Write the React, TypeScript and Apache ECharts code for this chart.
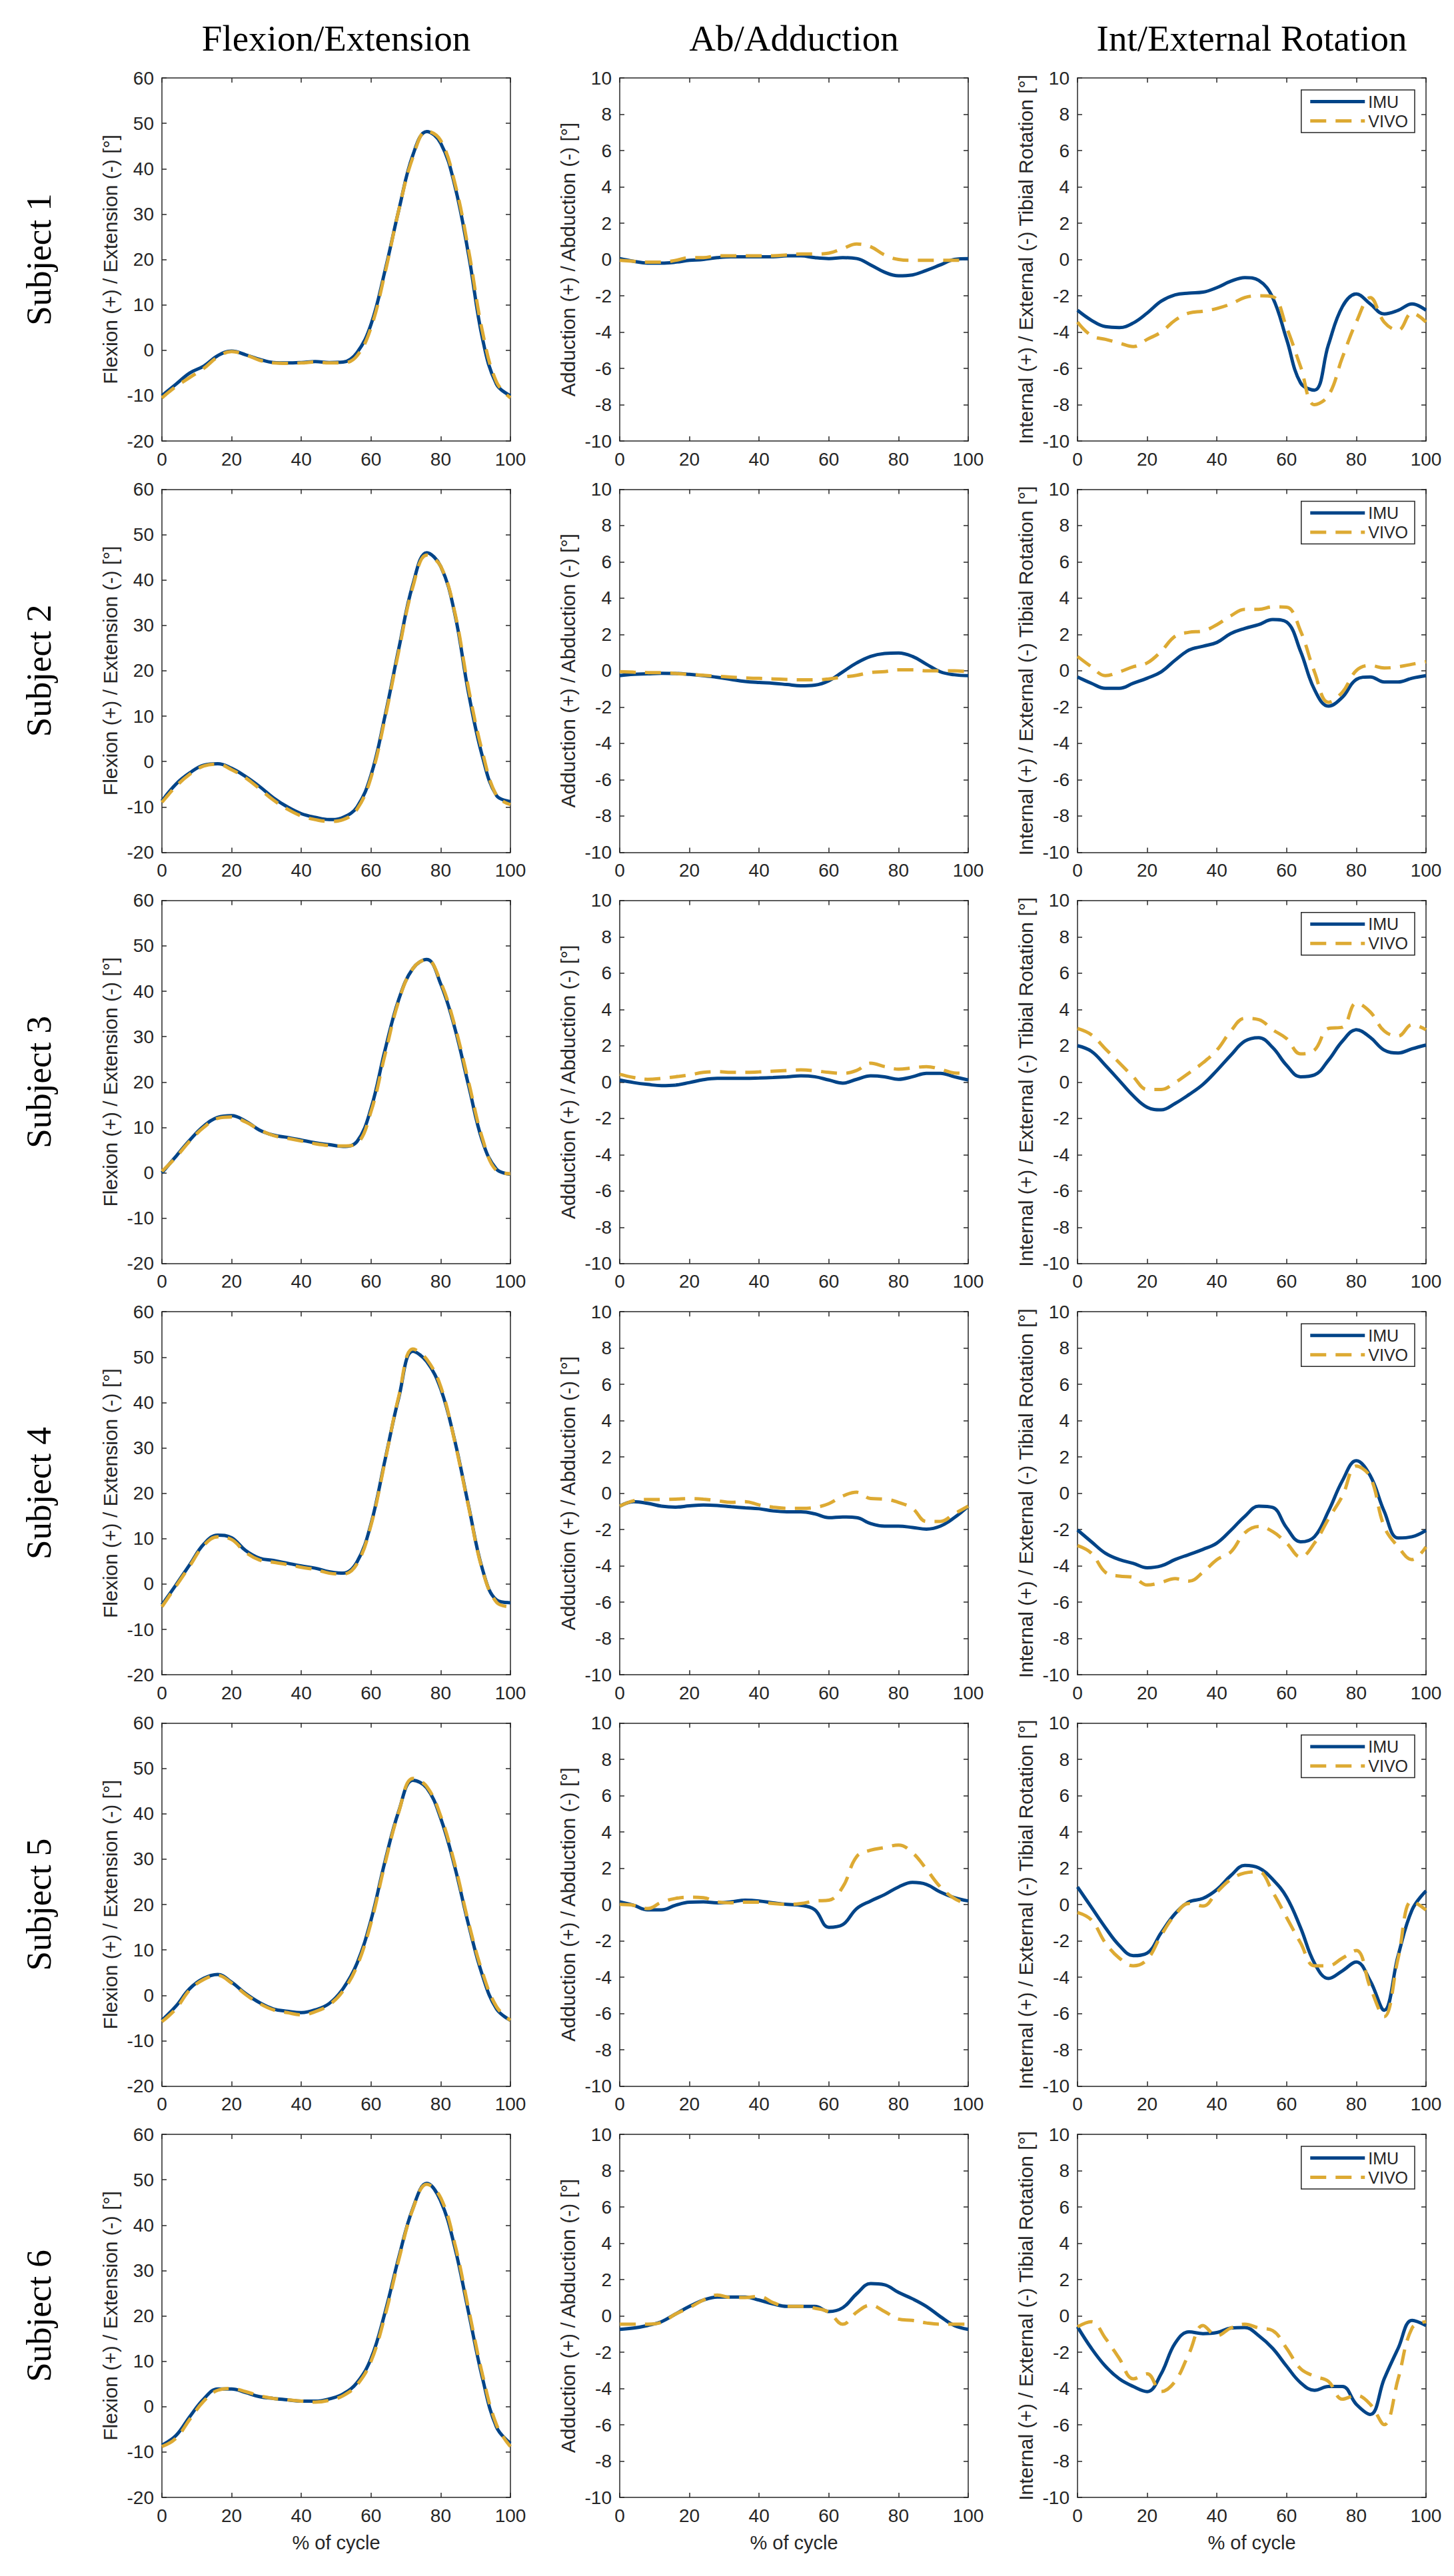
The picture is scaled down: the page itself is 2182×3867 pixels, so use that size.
import { useEffect, useRef } from "react";
import * as echarts from "echarts";

// % of gait cycle, sampled every 4 %
const cycle = [0, 4, 8, 12, 16, 20, 24, 28, 32, 36, 40, 44, 48, 52, 56, 60, 64, 68, 72, 76, 80, 84, 88, 92, 96, 100];

const subjects = ["Subject 1", "Subject 2", "Subject 3", "Subject 4", "Subject 5", "Subject 6"];
const columnTitles = ["Flexion/Extension", "Ab/Adduction", "Int/External Rotation"];
const yNames = [
  "Flexion (+) / Extension (-) [°]",
  "Adduction (+) / Abduction (-) [°]",
  "Internal (+) / External (-) Tibial Rotation [°]",
];
const yMins = [-20, -10, -10];
const yMaxs = [60, 10, 10];
const ySteps = [10, 2, 2];
const seriesNames = ["IMU", "VIVO"];

// Subject 1
const s1FlexImu = [-10, -7.5, -5, -3.5, -1.2, -0.2, -1, -2, -2.7, -2.8, -2.7, -2.5, -2.7, -2.6, -0.5, 5.7, 17.5, 31, 43, 48.2, 45.6, 36.4, 21, 2.5, -7.5, -10];
const s1FlexVivo = [-10.5, -8, -6, -4, -1.5, -0.3, -1, -2.2, -2.8, -2.9, -2.8, -2.6, -2.8, -2.8, -1.2, 5, 17, 31, 42.5, 48.3, 46.2, 37, 22, 4, -7, -10.5];
const s1AbdImu = [0.05, -0.1, -0.2, -0.2, -0.15, -0.05, 0, 0.1, 0.15, 0.15, 0.15, 0.15, 0.2, 0.2, 0.1, 0.05, 0.1, 0.05, -0.3, -0.7, -0.9, -0.85, -0.6, -0.3, 0, 0.05];
const s1AbdVivo = [-0.05, -0.1, -0.15, -0.15, -0.05, 0.1, 0.1, 0.2, 0.2, 0.2, 0.2, 0.2, 0.25, 0.3, 0.3, 0.35, 0.6, 0.85, 0.7, 0.25, 0, -0.05, -0.05, -0.05, -0.05, -0.05];
const s1RotImu = [-2.8, -3.35, -3.7, -3.75, -3.5, -2.95, -2.3, -1.95, -1.85, -1.8, -1.55, -1.2, -1.0, -1.15, -2.1, -4.4, -6.8, -7.2, -4.7, -2.6, -1.9, -2.45, -3.0, -2.8, -2.45, -2.8];
const s1RotVivo = [-3.45, -4.2, -4.4, -4.6, -4.8, -4.4, -4.0, -3.35, -2.95, -2.85, -2.7, -2.45, -2.1, -2.0, -2.05, -3.75, -5.9, -8.0, -7.5, -5.4, -3.45, -2.1, -3.45, -3.9, -2.95, -3.45];

// Subject 2
const s2FlexImu = [-8.7, -5, -2.5, -0.8, -0.5, -1.5, -3.3, -5.5, -8, -10, -11.5, -12.3, -12.8, -12.3, -10, -3, 10, 25, 39, 46, 43, 32.7, 15, 1, -7.5, -8.8];
const s2FlexVivo = [-9, -5.5, -2.8, -1, -0.6, -1.8, -3.6, -6, -8.5, -10.5, -12, -12.8, -13.2, -12.8, -10.5, -3.5, 9.5, 24.5, 38.5, 45.5, 43, 33, 16, 2, -7.5, -9.5];
const s2AbdImu = [-0.27, -0.2, -0.17, -0.14, -0.15, -0.2, -0.27, -0.36, -0.48, -0.59, -0.65, -0.69, -0.76, -0.83, -0.79, -0.55, -0.06, 0.43, 0.79, 0.95, 0.98, 0.79, 0.36, -0.06, -0.22, -0.27];
const s2AbdVivo = [-0.05, -0.08, -0.1, -0.1, -0.15, -0.2, -0.25, -0.3, -0.35, -0.4, -0.42, -0.45, -0.48, -0.5, -0.5, -0.45, -0.35, -0.25, -0.1, -0.05, 0.05, 0.05, 0, 0, 0, -0.05];
const s2RotImu = [-0.34, -0.69, -0.97, -0.97, -0.69, -0.41, -0.06, 0.58, 1.14, 1.35, 1.56, 2.05, 2.33, 2.54, 2.82, 2.68, 1.07, -1.04, -1.95, -1.46, -0.48, -0.34, -0.62, -0.62, -0.41, -0.27];
const s2RotVivo = [0.79, 0.22, -0.27, -0.06, 0.22, 0.43, 1.07, 1.9, 2.12, 2.19, 2.54, 3.03, 3.38, 3.38, 3.52, 3.5, 2.19, -0.06, -1.74, -1.18, 0.01, 0.29, 0.15, 0.22, 0.36, 0.5];

// Subject 3
const s3FlexImu = [0, 3.6, 7.2, 10.3, 12.2, 12.6, 11.4, 9.4, 8.3, 7.8, 7.2, 6.6, 6.2, 5.8, 6.9, 14.2, 27, 38.3, 45, 47, 41.6, 32, 19.2, 6.9, 0.8, -0.3];
const s3FlexVivo = [0.3, 3.4, 7, 10, 12, 12.3, 11.2, 9.5, 8.2, 7.6, 7, 6.4, 6, 5.9, 6.5, 13.5, 26, 38, 45, 47, 42, 32.5, 20, 7.5, 0.5, -0.2];
const s3AbdImu = [0.11, -0.03, -0.13, -0.2, -0.17, -0.03, 0.13, 0.2, 0.2, 0.2, 0.22, 0.25, 0.29, 0.34, 0.29, 0.11, -0.06, 0.15, 0.34, 0.29, 0.15, 0.29, 0.48, 0.48, 0.29, 0.11];
const s3AbdVivo = [0.43, 0.25, 0.15, 0.2, 0.29, 0.39, 0.53, 0.57, 0.53, 0.53, 0.56, 0.6, 0.64, 0.67, 0.62, 0.53, 0.48, 0.64, 1.04, 0.85, 0.71, 0.78, 0.85, 0.71, 0.5, 0.48];
const s3RotImu = [2.0, 1.69, 0.92, 0.08, -0.76, -1.39, -1.53, -1.18, -0.69, -0.13, 0.64, 1.48, 2.25, 2.44, 1.9, 0.92, 0.29, 0.39, 1.2, 2.25, 2.88, 2.46, 1.76, 1.6, 1.83, 2.04];
const s3RotVivo = [2.95, 2.6, 1.83, 1.06, 0.29, -0.41, -0.41, -0.03, 0.5, 1.06, 1.76, 2.81, 3.51, 3.44, 2.88, 2.39, 1.55, 1.76, 2.95, 3.02, 4.35, 3.86, 2.81, 2.53, 3.16, 2.88];

// Subject 4
const s4FlexImu = [-4.6, -0.2, 4.3, 8.8, 10.8, 10.2, 7.4, 5.7, 5.2, 4.6, 4.0, 3.5, 2.7, 2.4, 4.9, 13.3, 27.3, 41.2, 51.3, 49, 43, 31.7, 17.2, 3.2, -3.5, -4.1];
const s4FlexVivo = [-5, -0.5, 4, 8.5, 10.4, 9.8, 7, 5.3, 4.8, 4.3, 3.7, 3.2, 2.4, 2.2, 4.5, 13, 27, 41.5, 51.8, 49.5, 43.5, 31.5, 17, 3, -4, -5];
const s4AbdImu = [-0.71, -0.46, -0.55, -0.71, -0.76, -0.69, -0.64, -0.67, -0.74, -0.8, -0.85, -0.97, -1.02, -1.02, -1.13, -1.34, -1.3, -1.34, -1.67, -1.81, -1.81, -1.88, -1.97, -1.81, -1.34, -0.71];
const s4AbdVivo = [-0.71, -0.41, -0.34, -0.34, -0.32, -0.29, -0.32, -0.41, -0.5, -0.46, -0.64, -0.76, -0.83, -0.83, -0.78, -0.57, -0.15, 0.06, -0.29, -0.32, -0.5, -0.83, -1.55, -1.55, -1.13, -0.71];
const s4RotImu = [-2.02, -2.67, -3.3, -3.65, -3.86, -4.1, -4.0, -3.65, -3.37, -3.09, -2.74, -2.04, -1.27, -0.71, -0.78, -1.9, -2.67, -2.39, -0.99, 0.69, 1.8, 0.97, -0.99, -2.46, -2.39, -2.04];
const s4RotVivo = [-2.88, -3.3, -4.35, -4.56, -4.63, -5.05, -4.91, -4.7, -4.84, -4.35, -3.65, -3.23, -2.18, -1.83, -2.11, -2.74, -3.51, -2.74, -1.41, -0.15, 1.5, 0.9, -1.83, -2.95, -3.65, -2.95];

// Subject 5
const s5FlexImu = [-5.5, -2.4, 1.5, 3.75, 4.6, 2.9, 0.4, -1.6, -3.0, -3.5, -3.8, -3.2, -1.8, 1.5, 7.1, 16.6, 29.5, 40.7, 47.4, 45.7, 39, 28.4, 15.5, 4.3, -3, -5.5];
const s5FlexVivo = [-5.8, -3, 1.2, 3.5, 4.4, 2.7, 0.2, -1.8, -3.2, -3.8, -4.3, -3.6, -2.1, 1, 6.5, 16, 29, 40.5, 47.8, 46, 39.5, 29, 16, 5, -2.5, -5.5];
const s5AbdImu = [0.15, -0.04, -0.29, -0.29, -0.04, 0.13, 0.15, 0.1, 0.15, 0.24, 0.2, 0.1, 0.01, -0.04, -0.29, -1.25, -1.1, -0.22, 0.2, 0.55, 0.97, 1.22, 1.11, 0.69, 0.38, 0.2];
const s5AbdVivo = [0.01, -0.04, -0.22, 0.13, 0.34, 0.41, 0.38, 0.15, 0.1, 0.13, 0.13, 0.06, 0.01, 0.06, 0.2, 0.24, 0.97, 2.65, 3.0, 3.14, 3.28, 2.86, 1.95, 0.97, 0.34, -0.01];
const s5RotImu = [0.97, -0.15, -1.27, -2.25, -2.81, -2.67, -1.55, -0.5, 0.15, 0.34, 0.83, 1.6, 2.16, 2.02, 1.39, 0.41, -1.27, -3.23, -4.07, -3.65, -3.16, -4.21, -5.82, -2.81, -0.29, 0.76];
const s5RotVivo = [-0.43, -0.85, -2.11, -2.95, -3.37, -3.02, -1.69, -0.57, 0.06, -0.08, 0.69, 1.39, 1.74, 1.81, 0.69, -0.71, -2.11, -3.37, -3.37, -2.95, -2.53, -4.56, -6.17, -2.95, 0.2, -0.3];

// Subject 6
const s6FlexImu = [-8.5, -6.4, -2.2, 1.7, 3.9, 3.9, 3.1, 2.2, 1.8, 1.5, 1.2, 1.2, 1.7, 2.8, 5.3, 10.6, 20.7, 33, 43.7, 49.2, 45.3, 35.2, 20.7, 6.2, -4.5, -8.1];
const s6FlexVivo = [-8.8, -7, -2.8, 1.2, 3.6, 4, 3.3, 2.4, 1.8, 1.5, 1.2, 1.0, 1.4, 2.4, 4.8, 10, 20, 32.5, 43.5, 49, 46, 36, 21.5, 7, -4, -8.8];
const s6AbdImu = [-0.74, -0.67, -0.53, -0.32, 0.1, 0.52, 0.87, 1.04, 1.04, 1.04, 0.87, 0.66, 0.52, 0.52, 0.52, 0.24, 0.45, 1.22, 1.78, 1.71, 1.29, 0.94, 0.52, -0.04, -0.53, -0.74];
const s6AbdVivo = [-0.46, -0.46, -0.46, -0.36, 0.1, 0.45, 0.87, 1.15, 1.01, 1.01, 1.08, 0.73, 0.52, 0.52, 0.42, 0.2, -0.46, 0.2, 0.59, 0.24, -0.18, -0.25, -0.39, -0.46, -0.46, -0.46];
const s6RotImu = [-0.6, -1.79, -2.77, -3.47, -3.89, -4.17, -3.19, -1.51, -0.88, -0.98, -0.92, -0.67, -0.64, -1.09, -1.79, -2.77, -3.68, -4.1, -3.89, -3.89, -4.87, -5.43, -3.47, -1.79, -0.25, -0.53];
const s6RotVivo = [-0.6, -0.32, -1.23, -2.35, -3.47, -3.19, -4.17, -3.61, -2.07, -0.53, -1.09, -0.67, -0.46, -0.67, -0.81, -1.79, -2.91, -3.33, -3.61, -4.59, -4.38, -4.87, -5.99, -3.47, -0.67, -0.32];

const imuData = [
  [s1FlexImu, s1AbdImu, s1RotImu],
  [s2FlexImu, s2AbdImu, s2RotImu],
  [s3FlexImu, s3AbdImu, s3RotImu],
  [s4FlexImu, s4AbdImu, s4RotImu],
  [s5FlexImu, s5AbdImu, s5RotImu],
  [s6FlexImu, s6AbdImu, s6RotImu],
];
const vivoData = [
  [s1FlexVivo, s1AbdVivo, s1RotVivo],
  [s2FlexVivo, s2AbdVivo, s2RotVivo],
  [s3FlexVivo, s3AbdVivo, s3RotVivo],
  [s4FlexVivo, s4AbdVivo, s4RotVivo],
  [s5FlexVivo, s5AbdVivo, s5RotVivo],
  [s6FlexVivo, s6AbdVivo, s6RotVivo],
];

const IMU_COLOR = "#004488";
const VIVO_COLOR = "#DDAA33";
const INK = "#262626";
const SANS = "Liberation Sans";
const SERIF = "Liberation Serif";

const gridLefts = [243, 930, 1617];
const gridWidth = 523;
const gridHeight = 545;
const firstTop = 117;
const rowStep = 617.4;

const App = () => {
  const chartRef = useRef(null);

  useEffect(() => {
    const chart = echarts.init(chartRef.current, null, { renderer: "svg" });

    const grids: any[] = [];
    const xAxes: any[] = [];
    const yAxes: any[] = [];
    const series: any[] = [];
    const legends: any[] = [];
    const graphics: any[] = [];

    const tickStyle = { show: true, inside: true, length: 7, lineStyle: { color: INK, width: 1.5 } };
    const lineStyle = { show: true, onZero: false, lineStyle: { color: INK, width: 1.5 } };

    subjects.forEach((subject, r) => {
      const top = firstTop + r * rowStep;
      columnTitles.forEach((_, c) => {
        const g = r * 3 + c;
        grids.push({ left: gridLefts[c], top, width: gridWidth, height: gridHeight });

        xAxes.push({
          gridIndex: g,
          type: "value",
          min: 0,
          max: 100,
          interval: 20,
          position: "bottom",
          axisLine: lineStyle,
          axisTick: tickStyle,
          splitLine: { show: false },
          axisLabel: { color: INK, fontSize: 28, fontFamily: SANS, margin: 13 },
          name: r === subjects.length - 1 ? "% of cycle" : "",
          nameLocation: "middle",
          nameGap: 53,
          nameTextStyle: { color: INK, fontSize: 29, fontFamily: SANS },
        });
        xAxes.push({
          gridIndex: g,
          type: "value",
          min: 0,
          max: 100,
          interval: 20,
          position: "top",
          axisLine: lineStyle,
          axisTick: tickStyle,
          axisLabel: { show: false },
          splitLine: { show: false },
        });

        yAxes.push({
          gridIndex: g,
          type: "value",
          min: yMins[c],
          max: yMaxs[c],
          interval: ySteps[c],
          position: "left",
          axisLine: lineStyle,
          axisTick: tickStyle,
          splitLine: { show: false },
          axisLabel: { color: INK, fontSize: 28, fontFamily: SANS, margin: 12 },
          name: yNames[c],
          nameLocation: "middle",
          nameRotate: 90,
          nameGap: 63,
          nameTextStyle: { color: INK, fontSize: 30, fontFamily: SANS },
        });
        yAxes.push({
          gridIndex: g,
          type: "value",
          min: yMins[c],
          max: yMaxs[c],
          interval: ySteps[c],
          position: "right",
          axisLine: lineStyle,
          axisTick: tickStyle,
          axisLabel: { show: false },
          splitLine: { show: false },
        });

        const imu = imuData[r][c];
        const vivo = vivoData[r][c];
        series.push({
          name: seriesNames[0],
          type: "line",
          xAxisIndex: 2 * g,
          yAxisIndex: 2 * g,
          smooth: 0.4,
          symbol: "none",
          lineStyle: { color: IMU_COLOR, width: 5 },
          itemStyle: { color: IMU_COLOR },
          data: cycle.map((x, i) => [x, imu[i]]),
        });
        series.push({
          name: seriesNames[1],
          type: "line",
          xAxisIndex: 2 * g,
          yAxisIndex: 2 * g,
          smooth: 0.4,
          symbol: "none",
          lineStyle: { color: VIVO_COLOR, width: 5, type: [24, 14] },
          itemStyle: { color: VIVO_COLOR },
          data: cycle.map((x, i) => [x, vivo[i]]),
        });
      });

      // legend sits in the rotation panel of every row
      legends.push({
        data: seriesNames,
        orient: "vertical",
        right: 2182 - 2123,
        top: top + 18,
        itemWidth: 82,
        itemHeight: 14,
        itemGap: 4,
        itemTextGap: 9,
        padding: [5, 10, 5, 11],
        borderColor: INK,
        borderWidth: 1.5,
        backgroundColor: "#ffffff",
        itemStyle: { opacity: 0 },
        lineStyle: { width: 5 },
        textStyle: { color: INK, fontSize: 25, fontFamily: SANS },
      });

      graphics.push({
        type: "text",
        x: 58,
        y: top + gridHeight / 2,
        rotation: Math.PI / 2,
        style: {
          text: subject,
          fontSize: 53,
          fontFamily: SERIF,
          fill: "#000000",
          textAlign: "center",
          textVerticalAlign: "middle",
        },
      });
    });

    columnTitles.forEach((title, c) => {
      graphics.push({
        type: "text",
        x: gridLefts[c] + gridWidth / 2,
        y: 57,
        style: {
          text: title,
          fontSize: 55,
          fontFamily: SERIF,
          fill: "#000000",
          textAlign: "center",
          textVerticalAlign: "middle",
        },
      });
    });

    chart.setOption({
      animation: false,
      backgroundColor: "#ffffff",
      grid: grids,
      xAxis: xAxes,
      yAxis: yAxes,
      series,
      legend: legends,
      graphic: graphics,
    });

    return () => {
      chart.dispose();
    };
  }, []);

  return (
    <div
      ref={chartRef}
      style={{ position: "absolute", left: 0, top: 0, width: "2182px", height: "3867px" }}
    ></div>
  );
};

export default App;
